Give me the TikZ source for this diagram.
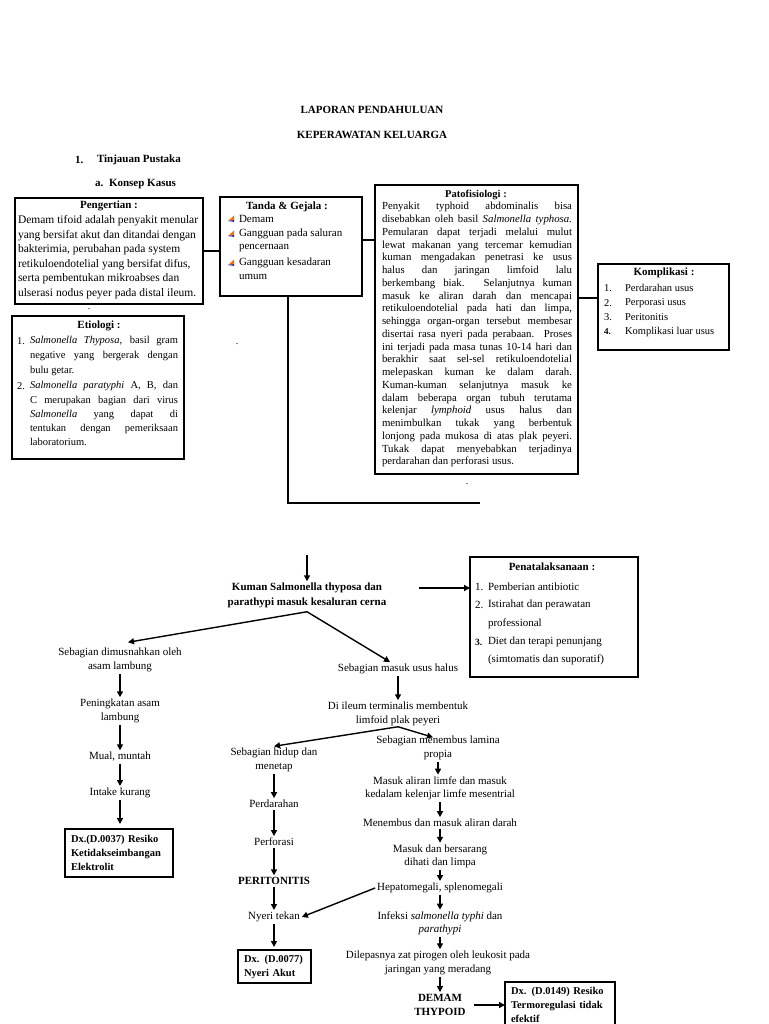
\documentclass[tikz,border=0pt]{standalone}
\usepackage{fontspec}
\setmainfont{Liberation Serif}
\usetikzlibrary{arrows.meta,calc}
\pretolerance=10000
\tolerance=10000
\hbadness=10000
\hfuzz=20pt
\newcommand\fsz[2]{\fontsize{#1}{#2}\selectfont}
\begin{document}
\begin{tikzpicture}[x=1pt,y=-1pt,
  every node/.style={inner sep=0pt,outer sep=0pt},
  box/.style={draw,line width=1.3pt,anchor=north west},
  dxbox/.style={draw,line width=1.1pt,anchor=north west,font=\fsz{10.5}{14}\bfseries,align=left,inner xsep=6pt,inner ysep=2pt},
  ttl/.style={font=\fsz{11}{13}\bfseries},
  hdr/.style={font=\fsz{11}{13}\bfseries},
  ft/.style={font=\fsz{11}{13.5},align=center,inner xsep=2pt,inner ysep=2pt},
  ftb/.style={font=\fsz{11}{14.5}\bfseries,align=center,inner xsep=2pt,inner ysep=2pt},
  it/.style={font=\fsz{11}{14}},
  ik/.style={font=\fsz{10.5}{13}},
  arr/.style={line width=1.7pt,-{Triangle[length=6pt,width=6pt]}},
  arrb/.style={line width=1.4pt,-{Triangle[length=6pt,width=6pt]}},
  ln/.style={line width=1.6pt},
  bul/.pic={
    \fill[orange!85!red] (-3,2) -- (3,-3.5) -- (3,1.2) -- cycle;
    \fill[blue!75!black] (-3,2) -- (3,1.2) -- (3,2.8) -- cycle;
  }
]
\useasboundingbox (0,0) rectangle (768,1024);

% ---------- header ----------
\node[hdr] (h1) at (372,110) {LAPORAN PENDAHULUAN};
\node[hdr] (h2) at (372,135) {KEPERAWATAN KELUARGA};
\node[hdr,anchor=west] (h3n) at (75,160) {1.};
\node[hdr,anchor=west] (h3) at (97,160) {Tinjauan Pustaka};
\node[hdr,anchor=west] (h4n) at (95,184) {a.};
\node[hdr,anchor=west] (h4) at (109,184) {Konsep Kasus};

% ---------- Pengertian ----------
\node[box,minimum width=188pt,minimum height=106pt] (peng) at (15,198) {};
\node[ttl] (pengT) at (109,206) {Pengertian :};
\node[anchor=north west,align=left,font=\fsz{11.5}{14.5}] (pengX) at (18,215.5)
 {Demam tifoid adalah penyakit menular\\
  yang bersifat akut dan ditandai dengan\\
  bakterimia, perubahan pada system\\
  retikuloendotelial yang bersifat difus,\\
  serta pembentukan mikroabses dan\\
  ulserasi nodus peyer pada distal ileum.};

% ---------- Tanda & Gejala ----------
\node[box,minimum width=142pt,minimum height=99pt] (tanda) at (220,197) {};
\node[ttl] (tandaT) at (287,207) {Tanda \& Gejala :};
\pic at (231,219) {bul};
\node[it,anchor=west] (t1) at (239,219) {Demam};
\pic at (231,234) {bul};
\node[it,anchor=west] (t2) at (239,234) {Gangguan pada saluran};
\node[it,anchor=west] (t3) at (239,248) {pencernaan};
\pic at (231,263) {bul};
\node[it,anchor=west] (t4) at (239,263) {Gangguan kesadaran};
\node[it,anchor=west] (t5) at (239,277) {umum};

% ---------- Patofisiologi ----------
\node[box,minimum width=203pt,minimum height=289pt] (pato) at (375,185) {};
\node[font=\fsz{10.5}{13}\bfseries] (patoT) at (476,195) {Patofisiologi :};
\node[anchor=north west,text width=190pt,align=justify,font=\fsz{10.8}{12.75}] (patoX) at (382,202.5)
 {Penyakit typhoid abdominalis bisa\linebreak
  disebabkan oleh basil \textit{Salmonella typhosa.}\linebreak
  Pemularan dapat terjadi melalui mulut\linebreak
  lewat makanan yang tercemar kemudian\linebreak
  kuman mengadakan penetrasi ke usus\linebreak
  halus dan jaringan limfoid lalu\linebreak
  berkembang biak. Selanjutnya kuman\linebreak
  masuk ke aliran darah dan mencapai\linebreak
  retikuloendotelial pada hati dan limpa,\linebreak
  sehingga organ-organ tersebut membesar\linebreak
  disertai rasa nyeri pada perabaan. Proses\linebreak
  ini terjadi pada masa tunas 10-14 hari dan\linebreak
  berakhir saat sel-sel retikuloendotelial\linebreak
  melepaskan kuman ke dalam darah.\linebreak
  Kuman-kuman selanjutnya masuk ke\linebreak
  dalam beberapa organ tubuh terutama\linebreak
  kelenjar \textit{lymphoid} usus halus dan\linebreak
  menimbulkan tukak yang berbentuk\linebreak
  lonjong pada mukosa di atas plak peyeri.\linebreak
  Tukak dapat menyebabkan terjadinya\linebreak
  perdarahan dan perforasi usus.};

% ---------- Komplikasi ----------
\node[box,minimum width=131pt,minimum height=86pt] (kompl) at (598,264) {};
\node[ttl] (komplT) at (664,273) {Komplikasi :};
\node[ik,anchor=west] (k1n) at (604,288) {1.};
\node[ik,anchor=west] (k1) at (625,288) {Perdarahan usus};
\node[ik,anchor=west] (k2n) at (604,303) {2.};
\node[ik,anchor=west] (k2) at (625,303) {Perporasi usus};
\node[ik,anchor=west] (k3n) at (604,317) {3.};
\node[ik,anchor=west] (k3) at (625,317) {Peritonitis};
\node[font=\fsz{9}{11}\bfseries,anchor=west] (k4n) at (604,332) {4.};
\node[ik,anchor=west] (k4) at (625,332) {Komplikasi luar usus};

% ---------- Etiologi ----------
\node[box,minimum width=172pt,minimum height=143pt] (etio) at (12,316) {};
\node[ttl] (etioT) at (99,326) {Etiologi :};
\node[ik,anchor=west] (e1n) at (17,341) {1.};
\node[anchor=north west,text width=148pt,align=justify,font=\fsz{10.5}{14.8}] (e1) at (30,336.5)
 {\textit{Salmonella Thyposa}, basil gram\linebreak
  negative yang bergerak dengan\linebreak
  bulu getar.};
\node[ik,anchor=west] (e2n) at (17,386) {2.};
\node[anchor=north west,text width=148pt,align=justify,font=\fsz{10.5}{14.3}] (e2) at (30,381.5)
 {\textit{Salmonella paratyphi} A, B, dan\linebreak
  C merupakan bagian dari virus\linebreak
  \textit{Salmonella} yang dapat di\linebreak
  tentukan dengan pemeriksaan\linebreak
  laboratorium.};

% stray dots
\node[font=\fsz{10}{12}] (d1) at (89,309) {.};
\node[font=\fsz{10}{12}] (d2) at (237,344) {.};
\node[font=\fsz{10}{12}] (d3) at (467,484) {.};

% ---------- connectors between boxes ----------
\draw[ln] (peng.east) -- (peng.east -| tanda.west);
\coordinate (tp) at ([yshift=-43pt]tanda.north east);
\draw[ln] (tp) -- (tp -| pato.west);
\coordinate (pk) at ([yshift=-113pt]pato.north east);
\draw[ln] (pk) -- (pk -| kompl.west);
\coordinate (j1) at (288,503);
\coordinate (j2) at (480,503);
\draw[ln] (tanda.south -| j1) -- (j1) -- (j2);

% ---------- Penatalaksanaan ----------
\node[box,line width=1.1pt,minimum width=168pt,minimum height=120pt] (pena) at (470,557) {};
\node[ttl] (penaT) at (552,567) {Penatalaksanaan :};
\node[it,anchor=west] (p1n) at (475,587) {1.};
\node[it,anchor=west] (p1) at (488,587) {Pemberian antibiotic};
\node[it,anchor=west] (p2n) at (475,605) {2.};
\node[it,anchor=west] (p2) at (488,605) {Istirahat dan perawatan};
\node[it,anchor=west] (p2b) at (488,624) {professional};
\node[font=\fsz{9.5}{11}\bfseries,anchor=west] (p3n) at (475,642) {3.};
\node[it,anchor=west] (p3) at (488,642) {Diet dan terapi penunjang};
\node[it,anchor=west] (p3b) at (488,660) {(simtomatis dan suporatif)};

% ---------- flow ----------
\coordinate (ktop) at (307,555);
\node[ftb] (kuman) at (307,595.5) {Kuman Salmonella thyposa dan\\parathypi masuk kesaluran cerna};
\draw[arr] (ktop) -- (kuman.north);
\coordinate (ka) at ([xshift=31pt,yshift=7.5pt]kuman.east);
\draw[arrb] (ka) -- (ka -| pena.west);
\coordinate (kp) at ([yshift=-2pt]kuman.south);

\node[ft] (sebA) at (120,660) {Sebagian dimusnahkan oleh\\asam lambung};
\node[ft] (pen) at (120,711) {Peningkatan asam\\lambung};
\node[ft] (mual) at (120,757) {Mual, muntah};
\node[ft] (intake) at (120,793) {Intake kurang};
\node[dxbox,text width=96pt,minimum height=48pt] (dx1) at (65,829) {Dx.(D.0037) Resiko\\Ketidakseimbangan\\Elektrolit};

\node[ft] (usus) at (398,669) {Sebagian masuk usus halus};
\node[ft] (ileum) at (398,714) {Di ileum terminalis membentuk\\limfoid plak peyeri};
\coordinate (ip) at ([yshift=1pt]ileum.south);
\node[ft] (hidup) at (274,760) {Sebagian hidup dan\\menetap};
\node[ft] (lamina) at (438,748) {Sebagian menembus lamina\\propia};
\node[ft] (perd) at (274,804) {Perdarahan};
\node[ft] (perf) at (274,842) {Perforasi};
\node[ftb] (perit) at (274,881) {PERITONITIS};
\node[ft] (nyeri) at (274,917) {Nyeri tekan};
\node[dxbox,text width=61pt,minimum height=33pt] (dx2) at (238,950) {Dx. (D.0077)\\Nyeri Akut};

\node[ft] (limfe) at (440,788.5) {Masuk aliran limfe dan masuk\\kedalam kelenjar limfe mesentrial};
\node[ft] (darah) at (440,823) {Menembus dan masuk aliran darah};
\node[ft] (sarang) at (440,856.5) {Masuk dan bersarang\\dihati dan limpa};
\node[ft] (hepato) at (440,888) {Hepatomegali, splenomegali};
\node[ft] (infeksi) at (440,923.5) {Infeksi \textit{salmonella typhi} dan\\\textit{parathypi}};
\node[ft] (pirogen) at (438,963) {Dilepasnya zat pirogen oleh leukosit pada\\jaringan yang meradang};
\node[ftb] (demam) at (440,1005) {DEMAM\\THYPOID};
\node[dxbox,text width=98pt,minimum height=46pt] (dx3) at (505,982) {Dx. (D.0149) Resiko\\Termoregulasi tidak\\efektif};

% branches
\draw[arrb] (kp) -- ([xshift=8pt,yshift=4pt]sebA.north);
\draw[arrb] (kp) -- ([xshift=-8pt]usus.north);
\draw[arrb] (ip) -- (hidup.north);
\draw[arrb] (ip) -- ([xshift=-5pt,yshift=-3pt]lamina.north);

% left column
\draw[arr] (sebA.south) -- (pen.north);
\draw[arr] (pen.south) -- (mual.north);
\draw[arr] (mual.south) -- (intake.north);
\draw[arr,shorten >=5pt] (intake.south) -- (intake.south |- dx1.north);

% middle column
\draw[arr] (usus.south) -- (ileum.north);
\draw[arr] (hidup.south) -- (perd.north);
\draw[arr] (perd.south) -- (perf.north);
\draw[arr] (perf.south) -- (perit.north);
\draw[arr] (perit.south) -- (nyeri.north);
\draw[arr,shorten >=3pt] (nyeri.south) -- (nyeri.south |- dx2.north);

% right column
\draw[arr] (lamina.south) -- (lamina.south |- limfe.north);
\draw[arr] (limfe.south) -- (darah.north);
\draw[arr] (darah.south) -- (sarang.north);
\draw[arr] (sarang.south) -- (hepato.north);
\draw[arr] (hepato.south) -- (infeksi.north);
\draw[arr] (infeksi.south) -- (infeksi.south |- pirogen.north);
\draw[arr] (pirogen.south -| demam.north) -- (demam.north);
\draw[arrb] (hepato.west) -- (nyeri.east);
\coordinate (de) at ([xshift=6pt]demam.east);
\draw[arrb] (de) -- (de -| dx3.west);

\end{tikzpicture}
\end{document}
